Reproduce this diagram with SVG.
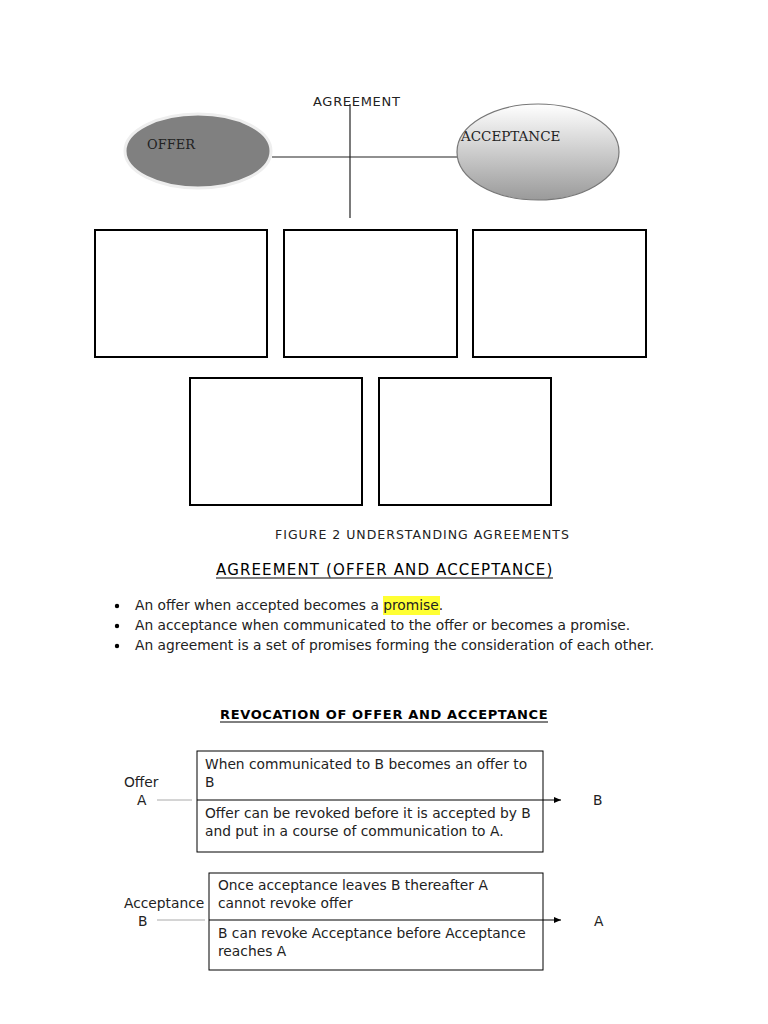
<svg xmlns="http://www.w3.org/2000/svg" width="768" height="1024" viewBox="0 0 768 1024">
<style>
.t{font-family:"DejaVu Sans",Verdana,sans-serif;font-size:13.8px;fill:#222}
.s{font-family:"DejaVu Serif","Liberation Serif",serif;font-size:13px;fill:#222}
.box{fill:#fff;stroke:#000;stroke-width:2}
.tb{fill:#fff;stroke:#000;stroke-width:1}
.ln{stroke:#222;stroke-width:1.2;fill:none}
.gl{stroke:#aaa;stroke-width:1;fill:none}
</style>
<defs>
<linearGradient id="g" x1="0" y1="0" x2="0" y2="1">
<stop offset="0" stop-color="#ffffff"/>
<stop offset="1" stop-color="#9a9a9a"/>
</linearGradient>
<marker id="ah" markerWidth="8" markerHeight="8" refX="7" refY="4" orient="auto" markerUnits="userSpaceOnUse">
<path d="M0,1 L7,4 L0,7 Z" fill="#000"/>
</marker>
</defs>
<rect width="768" height="1024" fill="#fff"/>

<g id="connectors">
<line class="ln" x1="272" y1="157" x2="457" y2="157"/>
<line class="ln" x1="350" y1="104" x2="350" y2="218"/>
<line class="gl" x1="157" y1="800" x2="192" y2="800"/>
<line x1="543" y1="800" x2="561" y2="800" stroke="#000" stroke-width="1" marker-end="url(#ah)"/>
<line class="gl" x1="157" y1="920" x2="205" y2="920"/>
<line x1="543" y1="920" x2="561" y2="920" stroke="#000" stroke-width="1" marker-end="url(#ah)"/>
</g>

<g id="agreement-label"><text class="t" x="313" y="106" style="font-size:13px;letter-spacing:0.7px">AGREEMENT</text></g>

<g id="offer">
<ellipse cx="198" cy="151" rx="73" ry="37" fill="#808080" stroke="#eeeeee" stroke-width="3"/>
<text class="s" x="147" y="149">OFFER</text>
</g>

<g id="acceptance">
<ellipse cx="538" cy="152" rx="81" ry="48" fill="url(#g)" stroke="#777" stroke-width="1.2"/>
<text class="s" x="461" y="141" style="font-size:13.5px">ACCEPTANCE</text>
</g>

<g id="box1"><rect class="box" x="95" y="230" width="172" height="127"/></g>
<g id="box2"><rect class="box" x="284" y="230" width="173" height="127"/></g>
<g id="box3"><rect class="box" x="473" y="230" width="173" height="127"/></g>
<g id="box4"><rect class="box" x="190" y="378" width="172" height="127"/></g>
<g id="box5"><rect class="box" x="379" y="378" width="172" height="127"/></g>

<g id="caption"><text class="t" x="275" y="539" style="font-size:12.5px;letter-spacing:1px">FIGURE 2 UNDERSTANDING AGREEMENTS</text></g>

<g id="heading1">
<text class="t" x="216" y="575" style="font-size:15px;letter-spacing:1.15px;fill:#000">AGREEMENT (OFFER AND ACCEPTANCE)</text>
<line x1="216" y1="578" x2="553" y2="578" stroke="#000" stroke-width="1"/>
</g>

<g id="bullets">
<rect x="383" y="596" width="57" height="19" fill="#ffff33"/>
<circle cx="117" cy="606" r="2.2" fill="#000"/>
<circle cx="117" cy="626" r="2.2" fill="#000"/>
<circle cx="117" cy="646" r="2.2" fill="#000"/>
<text class="t" x="135" y="610">An offer when accepted becomes a promise.</text>
<text class="t" x="135" y="630">An acceptance when communicated to the offer or becomes a promise.</text>
<text class="t" x="135" y="650">An agreement is a set of promises forming the consideration of each other.</text>
</g>

<g id="heading2">
<text class="t" x="220" y="719" style="font-size:13px;font-weight:bold;letter-spacing:0.65px;fill:#000">REVOCATION OF OFFER AND ACCEPTANCE</text>
<line x1="220" y1="722" x2="548" y2="722" stroke="#000" stroke-width="1"/>
</g>

<g id="offer-row">
<text class="t" x="124" y="787">Offer</text>
<text class="t" x="137" y="805">A</text>
<rect class="tb" x="197" y="751" width="346" height="101"/>
<line x1="197" y1="800" x2="543" y2="800" stroke="#000" stroke-width="1"/>
<text class="t" x="205" y="769">When communicated to B becomes an offer to</text>
<text class="t" x="205" y="787">B</text>
<text class="t" x="205" y="818">Offer can be revoked before it is accepted by B</text>
<text class="t" x="205" y="836">and put in a course of communication to A.</text>
<text class="t" x="593" y="805">B</text>
</g>

<g id="acceptance-row">
<text class="t" x="124" y="908">Acceptance</text>
<text class="t" x="138" y="926">B</text>
<rect class="tb" x="209" y="873" width="334" height="97"/>
<line x1="209" y1="920" x2="543" y2="920" stroke="#000" stroke-width="1"/>
<text class="t" x="218" y="890">Once acceptance leaves B thereafter A</text>
<text class="t" x="218" y="908">cannot revoke offer</text>
<text class="t" x="218" y="938">B can revoke Acceptance before Acceptance</text>
<text class="t" x="218" y="956">reaches A</text>
<text class="t" x="594" y="926">A</text>
</g>
</svg>
